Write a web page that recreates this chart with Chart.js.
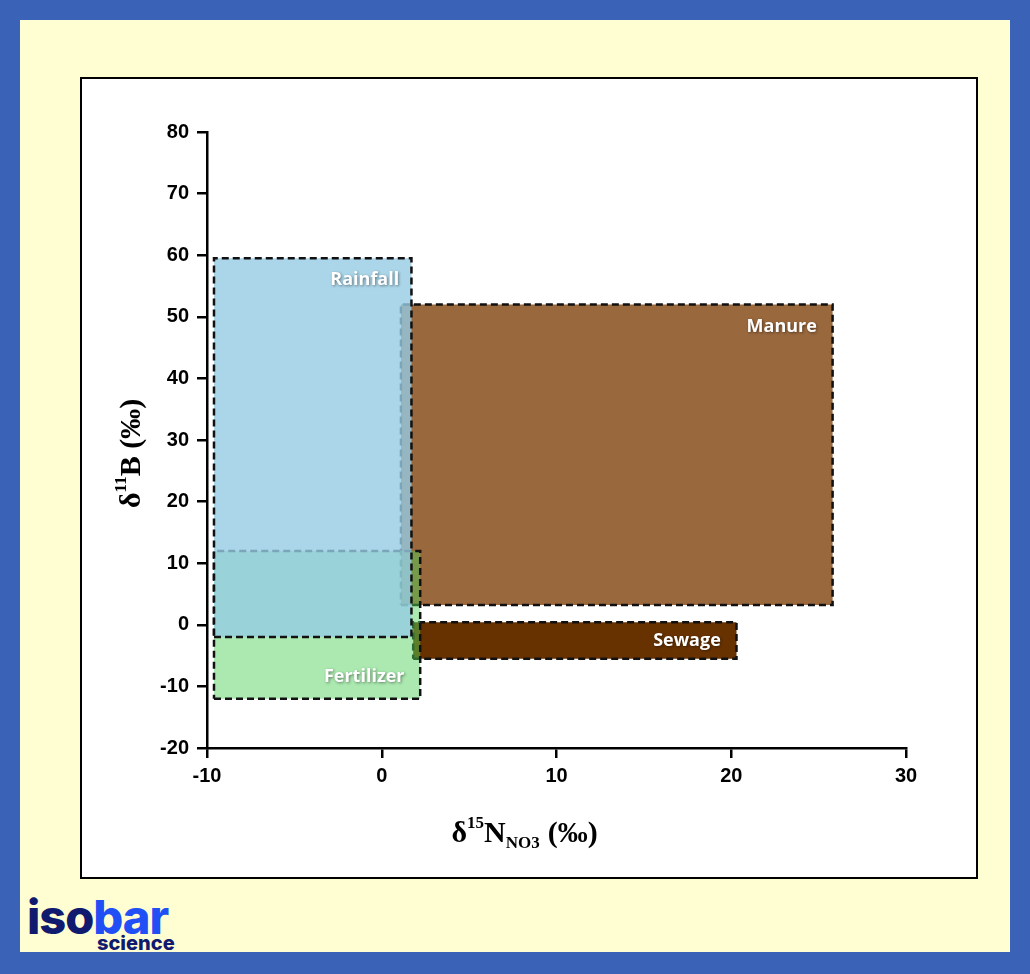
<!DOCTYPE html>
<html>
<head>
<meta charset="utf-8">
<script src="https://cdn.jsdelivr.net/npm/chart.js@4.4.0/dist/chart.umd.min.js"></script>
<style>
  body { margin: 0; width: 1030px; height: 974px; background: #3a62b6; position: relative; overflow: hidden; }
  #cream { position: absolute; left: 20px; top: 20px; width: 990px; height: 932px; background: #fffdd2; }
  #box { position: absolute; left: 80px; top: 77px; width: 894px; height: 798px; background: #fff; border: 2px solid #000; }
  #logo { position: absolute; left: 27px; top: 893px; font-family: Inter, sans-serif; font-weight: 800; line-height: 1; }
  #logo .big { font-size: 47px; letter-spacing: -1px; }
  #logo .iso { color: #101a6e; }
  #logo .bar { color: #1f4ff5; }
  #logo .sci { position: absolute; left: 70px; top: 40px; font-size: 20px; color: #101a6e; }
</style>
</head>
<body>
<div id="cream"></div>
<div id="box"><canvas id="chart" width="894" height="798"></canvas></div>
<div id="logo"><span class="big"><span class="iso">iso</span><span class="bar">bar</span></span><span class="sci">science</span></div>
<script>
// source regions: [xMin, xMax, yMin, yMax]
const names = ['Rainfall', 'Fertilizer', 'Manure', 'Sewage'];
const xMin = [-9.6, -9.6, 1.1, 1.8];
const xMax = [1.7, 2.2, 25.8, 20.3];
const yMin = [-2, -12, 3.2, -5.5];
const yMax = [59.5, 12, 52, 0.4];
const fills = ['rgba(150,204,228,0.8)', 'rgba(80,210,90,0.48)', 'rgba(146,92,46,0.93)', 'rgba(104,50,0,1)'];
const xTicks = [-10, 0, 10, 20, 30];
const yTicks = [-20, -10, 0, 10, 20, 30, 40, 50, 60, 70, 80];

const datasets = names.map((n, i) => ({
    label: n,
    data: [
        {x: xMin[i], y: yMin[i]}, {x: xMax[i], y: yMin[i]},
        {x: xMax[i], y: yMax[i]}, {x: xMin[i], y: yMax[i]},
        {x: xMin[i], y: yMin[i]}
    ],
    showLine: true,
    fill: 'shape',
    backgroundColor: fills[i],
    borderColor: '#111',
    borderWidth: 2.5,
    borderDash: [7, 4],
    pointRadius: 0,
    tension: 0
}));

// label anchors (right aligned, near top right corner)
const labelX = [1.0, 1.3, 24.9, 19.4];
const labelY = [56, -8.5, 48.3, -2.6];

const boxLabels = {
    id: 'boxLabels',
    afterDatasetsDraw(chart) {
        const {ctx, scales: {x, y}} = chart;
        ctx.save();
        ctx.font = 'bold 18px "Open Sans"';
        ctx.textAlign = 'right';
        ctx.textBaseline = 'middle';
        ctx.fillStyle = '#fff';
        ctx.shadowColor = 'rgba(0,0,0,0.45)';
        ctx.shadowBlur = 3;
        ctx.shadowOffsetX = 1;
        ctx.shadowOffsetY = 1;
        names.forEach((n, i) => ctx.fillText(n, x.getPixelForValue(labelX[i]), y.getPixelForValue(labelY[i])));
        ctx.restore();

        // axis titles
        ctx.save();
        ctx.fillStyle = '#000';
        ctx.textBaseline = 'alphabetic';
        const cx = (x.left + x.right) / 2 - 20, by = 763;
        let px = cx - 85;
        ctx.font = 'bold 30px "Liberation Serif"';
        ctx.fillText('δ', px, by); px += ctx.measureText('δ').width;
        ctx.font = 'bold 17px "Liberation Serif"';
        ctx.fillText('15', px, by - 14); px += ctx.measureText('15').width;
        ctx.font = 'bold 30px "Liberation Serif"';
        ctx.fillText('N', px, by); px += ctx.measureText('N').width;
        ctx.font = 'bold 17px "Liberation Serif"';
        ctx.fillText('NO3', px, by + 6); px += ctx.measureText('NO3').width + 8;
        ctx.font = 'bold 30px "Liberation Serif"';
        ctx.fillText('(‰)', px, by);

        ctx.translate(58, (y.top + y.bottom) / 2);
        ctx.rotate(-Math.PI / 2);
        px = -68;
        ctx.font = 'bold 30px "Liberation Serif"';
        ctx.fillText('δ', px, 0); px += ctx.measureText('δ').width;
        ctx.font = 'bold 17px "Liberation Serif"';
        ctx.fillText('11', px, -14); px += ctx.measureText('11').width;
        ctx.font = 'bold 30px "Liberation Serif"';
        ctx.fillText('B (‰)', px, 0);
        ctx.restore();
    }
};

const tickFont = {family: '"Liberation Sans"', size: 20, weight: 'bold'};

new Chart(document.getElementById('chart').getContext('2d'), {
    type: 'scatter',
    data: {datasets},
    plugins: [boxLabels],
    options: {
        responsive: false,
        animation: false,
        layout: {padding: {left: 0, top: 53, right: 70, bottom: 0}},
        plugins: {legend: {display: false}, tooltip: {enabled: false}},
        scales: {
            x: {
                min: -10, max: 30,
                afterBuildTicks: s => { s.ticks = xTicks.map(v => ({value: v})); },
                afterFit: s => { s.height = 129; },
                border: {color: '#000', width: 2.5},
                grid: {drawOnChartArea: false, color: '#000', lineWidth: 2.5, tickLength: 10},
                ticks: {color: '#000', font: tickFont, padding: 6}
            },
            y: {
                min: -20, max: 80,
                afterBuildTicks: s => { s.ticks = yTicks.map(v => ({value: v})); },
                afterFit: s => { s.width = 125; },
                border: {color: '#000', width: 2.5},
                grid: {drawOnChartArea: false, color: '#000', lineWidth: 2.5, tickLength: 10},
                ticks: {color: '#000', font: tickFont, padding: 8}
            }
        }
    }
});
</script>
</body>
</html>
